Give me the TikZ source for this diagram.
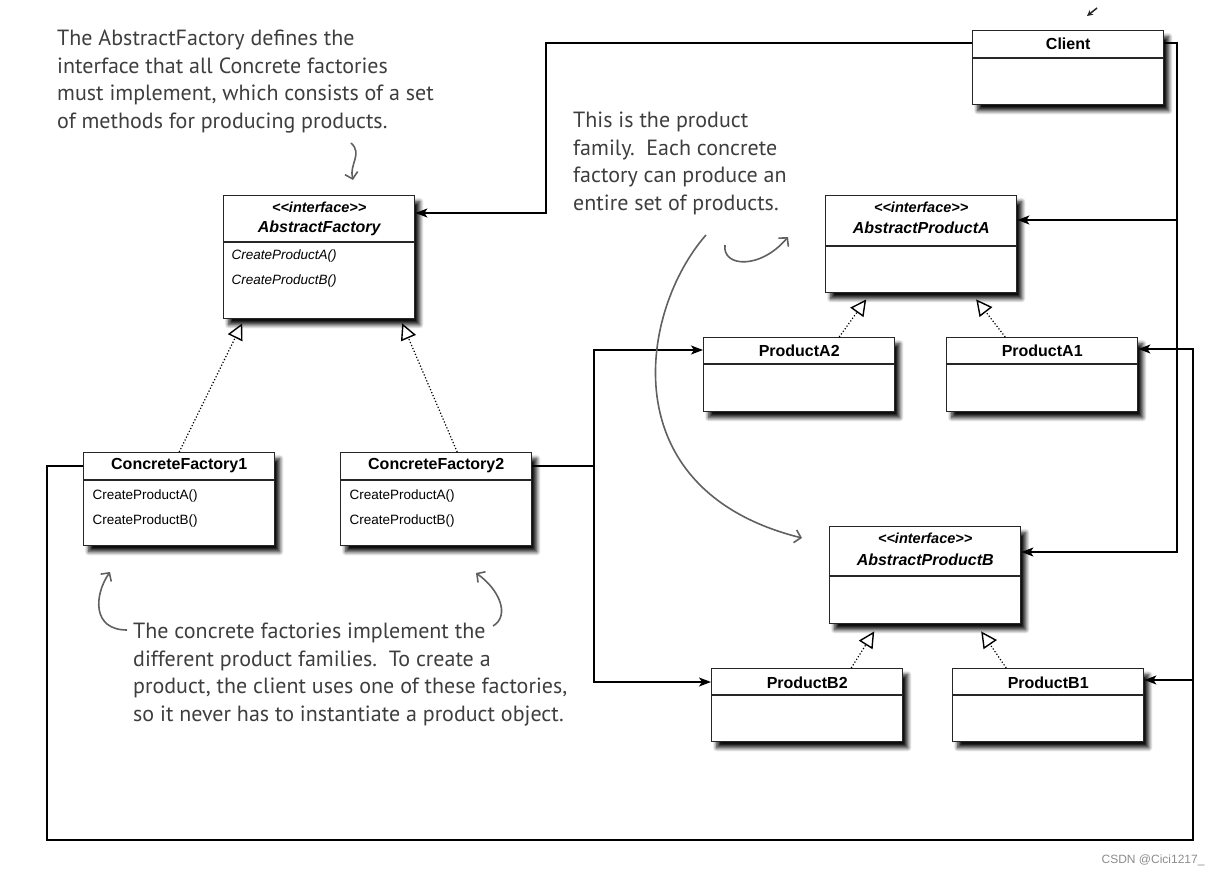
\documentclass[tikz,border=0pt]{standalone}
\usepackage{fontspec}
\setmainfont{Liberation Sans}
\newfontfamily\notefont{PT Sans}
\usetikzlibrary{arrows.meta,shadows.blur}

\begin{document}
\begin{tikzpicture}[x=1pt,y=-1pt,
  umlbox/.style={draw=boxline,line width=1.4pt,fill=white,anchor=north west,minimum width=191,inner sep=0pt,
    blur shadow={shadow xshift=5pt,shadow yshift=-6pt,shadow blur radius=4pt,shadow blur steps=8,shadow opacity=95}},
  divider/.style={draw=boxline,line width=1.1pt},
  title/.style={font=\bfseries\fontsize{16}{18}\selectfont},
  abstitle/.style={font=\bfseries\itshape\fontsize{16}{18}\selectfont},
  stereo/.style={font=\bfseries\itshape\fontsize{14.5}{16}\selectfont},
  method/.style={anchor=west,font=\fontsize{13.5}{16}\selectfont},
  absmethod/.style={anchor=west,font=\itshape\fontsize{13.5}{16}\selectfont},
  assoc/.style={line width=1.4pt,-{Stealth[length=12pt,width=9pt,inset=3pt]}},
  realize/.style={line width=1.2pt,dotted,-{Triangle[open,length=16pt,width=16pt,fill=white,line width=1.4pt]}},
  note/.style={anchor=north west,align=left,inner sep=0pt,text=notegray,font=\notefont\fontsize{22}{27.5}\selectfont},
  handarrow/.style={draw=handgray,line width=1.6pt,-{Straight Barb[length=6pt,width=13pt]}}]
\definecolor{boxline}{HTML}{262626}
\definecolor{notegray}{HTML}{3E3E3E}
\definecolor{handgray}{HTML}{606060}
\useasboundingbox (0,0) rectangle (1223,875);

% class boxes: name/x/y/height/divider
\foreach \nm/\x/\y/\h/\dy in {cl/972/30/74/28, af/223/195/123/47, apa/825/195/97/51,
  pa2/703/337/74/27, pa1/946/337/74/27, cf1/83/452/93/28, cf2/340/452/93/28,
  apb/829/526/97/50, pb2/711/668/73/27, pb1/952/668/73/27}
{
  \node[umlbox,minimum height=\h] (\nm) at (\x,\y) {};
  \draw[divider] ([yshift=-\dy pt]\nm.north west) -- ([yshift=-\dy pt]\nm.north east);
}

\node[title] (cl-t) at ([yshift=-14pt]cl.north) {Client};
\node[stereo] (af-s) at ([yshift=-12pt]af.north) {<{}<interface>{}>};
\node[abstitle] (af-t) at ([yshift=-33pt]af.north) {AbstractFactory};
\node[absmethod] (af-m1) at ([xshift=5pt,yshift=-61pt]af.north west) {CreateProductA()};
\node[absmethod] (af-m2) at ([xshift=5pt,yshift=-86pt]af.north west) {CreateProductB()};
\node[stereo] (apa-s) at ([yshift=-12pt]apa.north) {<{}<interface>{}>};
\node[abstitle] (apa-t) at ([yshift=-33pt]apa.north) {AbstractProductA};
\node[title] (pa2-t) at ([yshift=-14pt]pa2.north) {ProductA2};
\node[title] (pa1-t) at ([yshift=-14pt]pa1.north) {ProductA1};
\foreach \nm/\num in {cf1/1,cf2/2}
{
  \node[title] (\nm-t) at ([yshift=-14pt]\nm.north) {ConcreteFactory\num};
  \node[method] (\nm-m1) at ([xshift=6pt,yshift=-44pt]\nm.north west) {CreateProductA()};
  \node[method] (\nm-m2) at ([xshift=6pt,yshift=-69pt]\nm.north west) {CreateProductB()};
}
\node[stereo] (apb-s) at ([yshift=-12pt]apb.north) {<{}<interface>{}>};
\node[abstitle] (apb-t) at ([yshift=-34pt]apb.north) {AbstractProductB};
\node[title] (pb2-t) at ([yshift=-15pt]pb2.north) {ProductB2};
\node[title] (pb1-t) at ([yshift=-15pt]pb1.north) {ProductB1};

% associations
\draw[assoc] ([yshift=-13pt]cl.north west) -| (546,213) -- ([yshift=-18pt]af.north east);
\draw[assoc] ([yshift=-13pt]cl.north east) -| (1177,220) -- ([yshift=-25pt]apa.north east);
\draw[assoc] ([yshift=-13pt]cl.north east) -| (1177,552) -- ([yshift=-26pt]apb.north east);
\draw[assoc] ([yshift=-14pt]cf1.north west) -| (47,840) -| (1193,349) -- ([yshift=-12pt]pa1.north east);
\draw[assoc] ([yshift=-14pt]cf1.north west) -| (47,840) -| (1193,680) -- ([yshift=-12pt]pb1.north east);
\draw[assoc] ([yshift=-14pt]cf2.north east) -| (594,350) -- ([yshift=-13pt]pa2.north west);
\draw[assoc] ([yshift=-14pt]cf2.north east) -| (594,682) -- ([yshift=-14pt]pb2.north west);

% realizations
\draw[realize] (cf1.north) -- ([xshift=-77pt,yshift=-4pt]af.south);
\draw[realize] ([xshift=21pt]cf2.north) -- ([xshift=83pt,yshift=-4pt]af.south);
\draw[realize] ([xshift=40pt]pa2.north) -- ([xshift=-55pt,yshift=-6pt]apa.south);
\draw[realize] ([xshift=-37pt]pa1.north) -- ([xshift=55pt,yshift=-6pt]apa.south);
\draw[realize] ([xshift=44pt]pb2.north) -- ([xshift=-51pt,yshift=-7pt]apb.south);
\draw[realize] ([xshift=-42pt]pb1.north) -- ([xshift=56pt,yshift=-7pt]apb.south);

% notes
\node[note] (n-af) at (57,30) {The AbstractFactory defines the\\interface that all Concrete factories\\must implement, which consists of a set\\of methods for producing products.};
\node[note] (n-fam) at (573,112) {This is the product\\family.\ \ Each concrete\\factory can produce an\\entire set of products.};
\node[note] (n-cf) at (133,623) {The concrete factories implement the\\different product families.\ \ To create a\\product, the client uses one of these factories,\\so it never has to instantiate a product object.};

\coordinate (h1a) at (351,143);
\coordinate (h1b) at (353,180);
\coordinate (h2a) at (706,235);
\coordinate (h2b) at (802,538);
\coordinate (h3a) at (725,245);
\coordinate (h3b) at (788,237);
\coordinate (h4a) at (127,630);
\coordinate (h4b) at (110,572);
\coordinate (h5a) at (493,626);
\coordinate (h5b) at (476,573);
\coordinate (h6a) at (1097,8);
\coordinate (h6b) at (1087,16);
\draw[handarrow] (h1a) .. controls (363,154) and (349,164) .. (h1b);
\draw[handarrow] (h2a) .. controls (640,310) and (610,490) .. (h2b);
\draw[handarrow] (h3a) .. controls (722,267) and (760,270) .. (h3b);
\draw[handarrow] (h4a) .. controls (92,630) and (94,595) .. (h4b);
\draw[handarrow] (h5a) .. controls (510,616) and (500,590) .. (h5b);
\draw[line width=1.5pt,draw=boxline,-{Stealth[length=6pt,width=6pt]}] (h6a) -- (h6b);

\node[anchor=east,text=black!45,font=\fontsize{12}{14}\selectfont] (wm) at (1208,860) {CSDN @Cici1217\_};
\end{tikzpicture}
\end{document}
